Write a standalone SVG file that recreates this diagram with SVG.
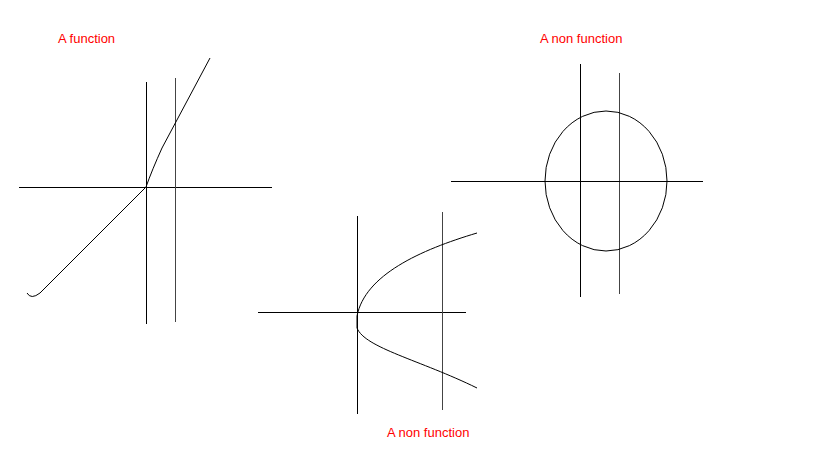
<svg xmlns="http://www.w3.org/2000/svg" width="819" height="460" viewBox="0 0 819 460">
<style>
.l{stroke:#000;stroke-width:1;fill:none}
.g{stroke:#444;stroke-width:1;fill:none}
.t{font-family:"Liberation Sans",Arial,sans-serif;font-size:13px;fill:#ff0000}
</style>
<rect width="819" height="460" fill="#fff"/>
<g id="graph1">
<line class="l" x1="19" y1="187.5" x2="272" y2="187.5"/>
<line class="l" x1="146.5" y1="82" x2="146.5" y2="324"/>
<line class="g" x1="175.5" y1="78" x2="175.5" y2="322"/>
<path class="l" d="M27,293 Q31,300 40,293 L146,187 Q152,170 162,148 L210,58"/>
<text class="t" x="58" y="43">A function</text>
</g>
<g id="graph2">
<line class="l" x1="357.5" y1="216" x2="357.5" y2="414"/>
<line class="l" x1="258" y1="312.5" x2="466" y2="312.5"/>
<line class="g" x1="442.5" y1="212" x2="442.5" y2="410"/>
<path class="l" d="M477,233 C420,250 365,275 357,316 L357,328 C365,348 420,360 477,388"/>
<text class="t" x="387" y="437">A non  function</text>
</g>
<g id="graph3">
<line class="l" x1="580.5" y1="64" x2="580.5" y2="297"/>
<line class="g" x1="619.5" y1="73" x2="619.5" y2="294"/>
<line class="l" x1="451" y1="181.5" x2="703" y2="181.5"/>
<ellipse class="l" cx="606" cy="181" rx="61" ry="70"/>
<text class="t" x="540" y="43">A non function</text>
</g>
</svg>
